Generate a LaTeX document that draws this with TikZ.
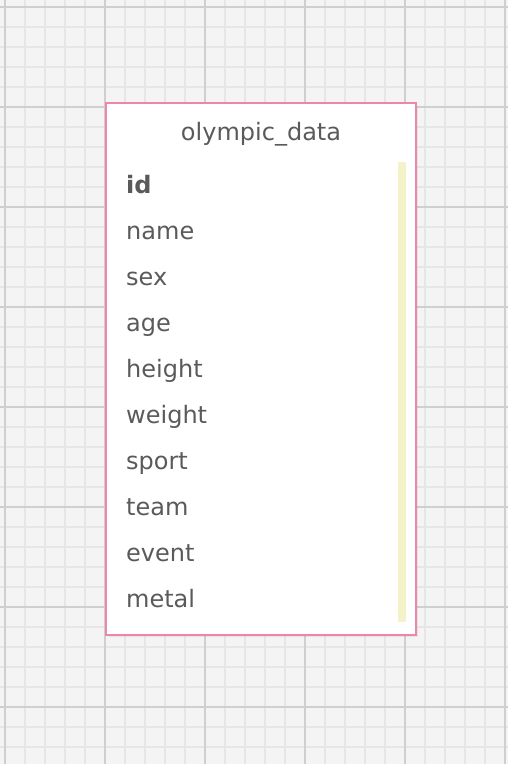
\documentclass[tikz,border=0pt]{standalone}
\usepackage{fontspec}
\setmainfont{DejaVu Sans}
\begin{document}
\begin{tikzpicture}[x=1pt,y=-1pt,
  fieldtext/.style={anchor=base west,inner sep=0pt,text=txtgray,font=\fontsize{24}{26}\selectfont},
  titletext/.style={anchor=base,inner sep=0pt,text=txtgray,font=\fontsize{24}{26}\selectfont},
  tablebox/.style={draw=boxpink,line width=2pt,fill=white,inner sep=0pt,anchor=center},
]
\definecolor{bggray}{HTML}{F4F4F4}
\definecolor{minorgrid}{HTML}{E6E6E6}
\definecolor{majorgrid}{HTML}{CFCFCF}
\definecolor{boxpink}{HTML}{EE86A8}
\definecolor{txtgray}{HTML}{5A5A5A}
\definecolor{baryellow}{HTML}{F3F2C9}
\useasboundingbox (0,0) rectangle (508,764);
\fill[bggray] (0,0) rectangle (508,764);
% minor grid
\foreach \x in {5,25,...,505} \draw[minorgrid,line width=1.3pt] (\x,0) -- (\x,764);
\foreach \y in {7,27,...,767} \draw[minorgrid,line width=1.3pt] (0,\y) -- (508,\y);
% major grid
\foreach \x in {5,105,...,505} \draw[majorgrid,line width=1.3pt] (\x,0) -- (\x,764);
\foreach \y in {7,107,...,707} \draw[majorgrid,line width=1.3pt] (0,\y) -- (508,\y);
% shadow
\fill[black,opacity=0.06] (109,106) rectangle (418,637);
% table box (border centre lines: x 107..415, y 104..634)
\node[tablebox,minimum width=310pt,minimum height=532pt] (tbl) at (261,369) {};
\fill[baryellow] (397.5,161.5) rectangle (406,621.5);
\node[titletext] (title) at (261,140) {olympic\_data};
\node[fieldtext,font=\fontsize{24}{26}\selectfont\bfseries] (f1) at (126,193) {id};
\node[fieldtext] (f2) at (126,239) {name};
\node[fieldtext] (f3) at (126,285) {sex};
\node[fieldtext] (f4) at (126,331) {age};
\node[fieldtext] (f5) at (126,377) {height};
\node[fieldtext] (f6) at (126,423) {weight};
\node[fieldtext] (f7) at (126,469) {sport};
\node[fieldtext] (f8) at (126,515) {team};
\node[fieldtext] (f9) at (126,561) {event};
\node[fieldtext] (f10) at (126,607) {metal};
\end{tikzpicture}
\end{document}
